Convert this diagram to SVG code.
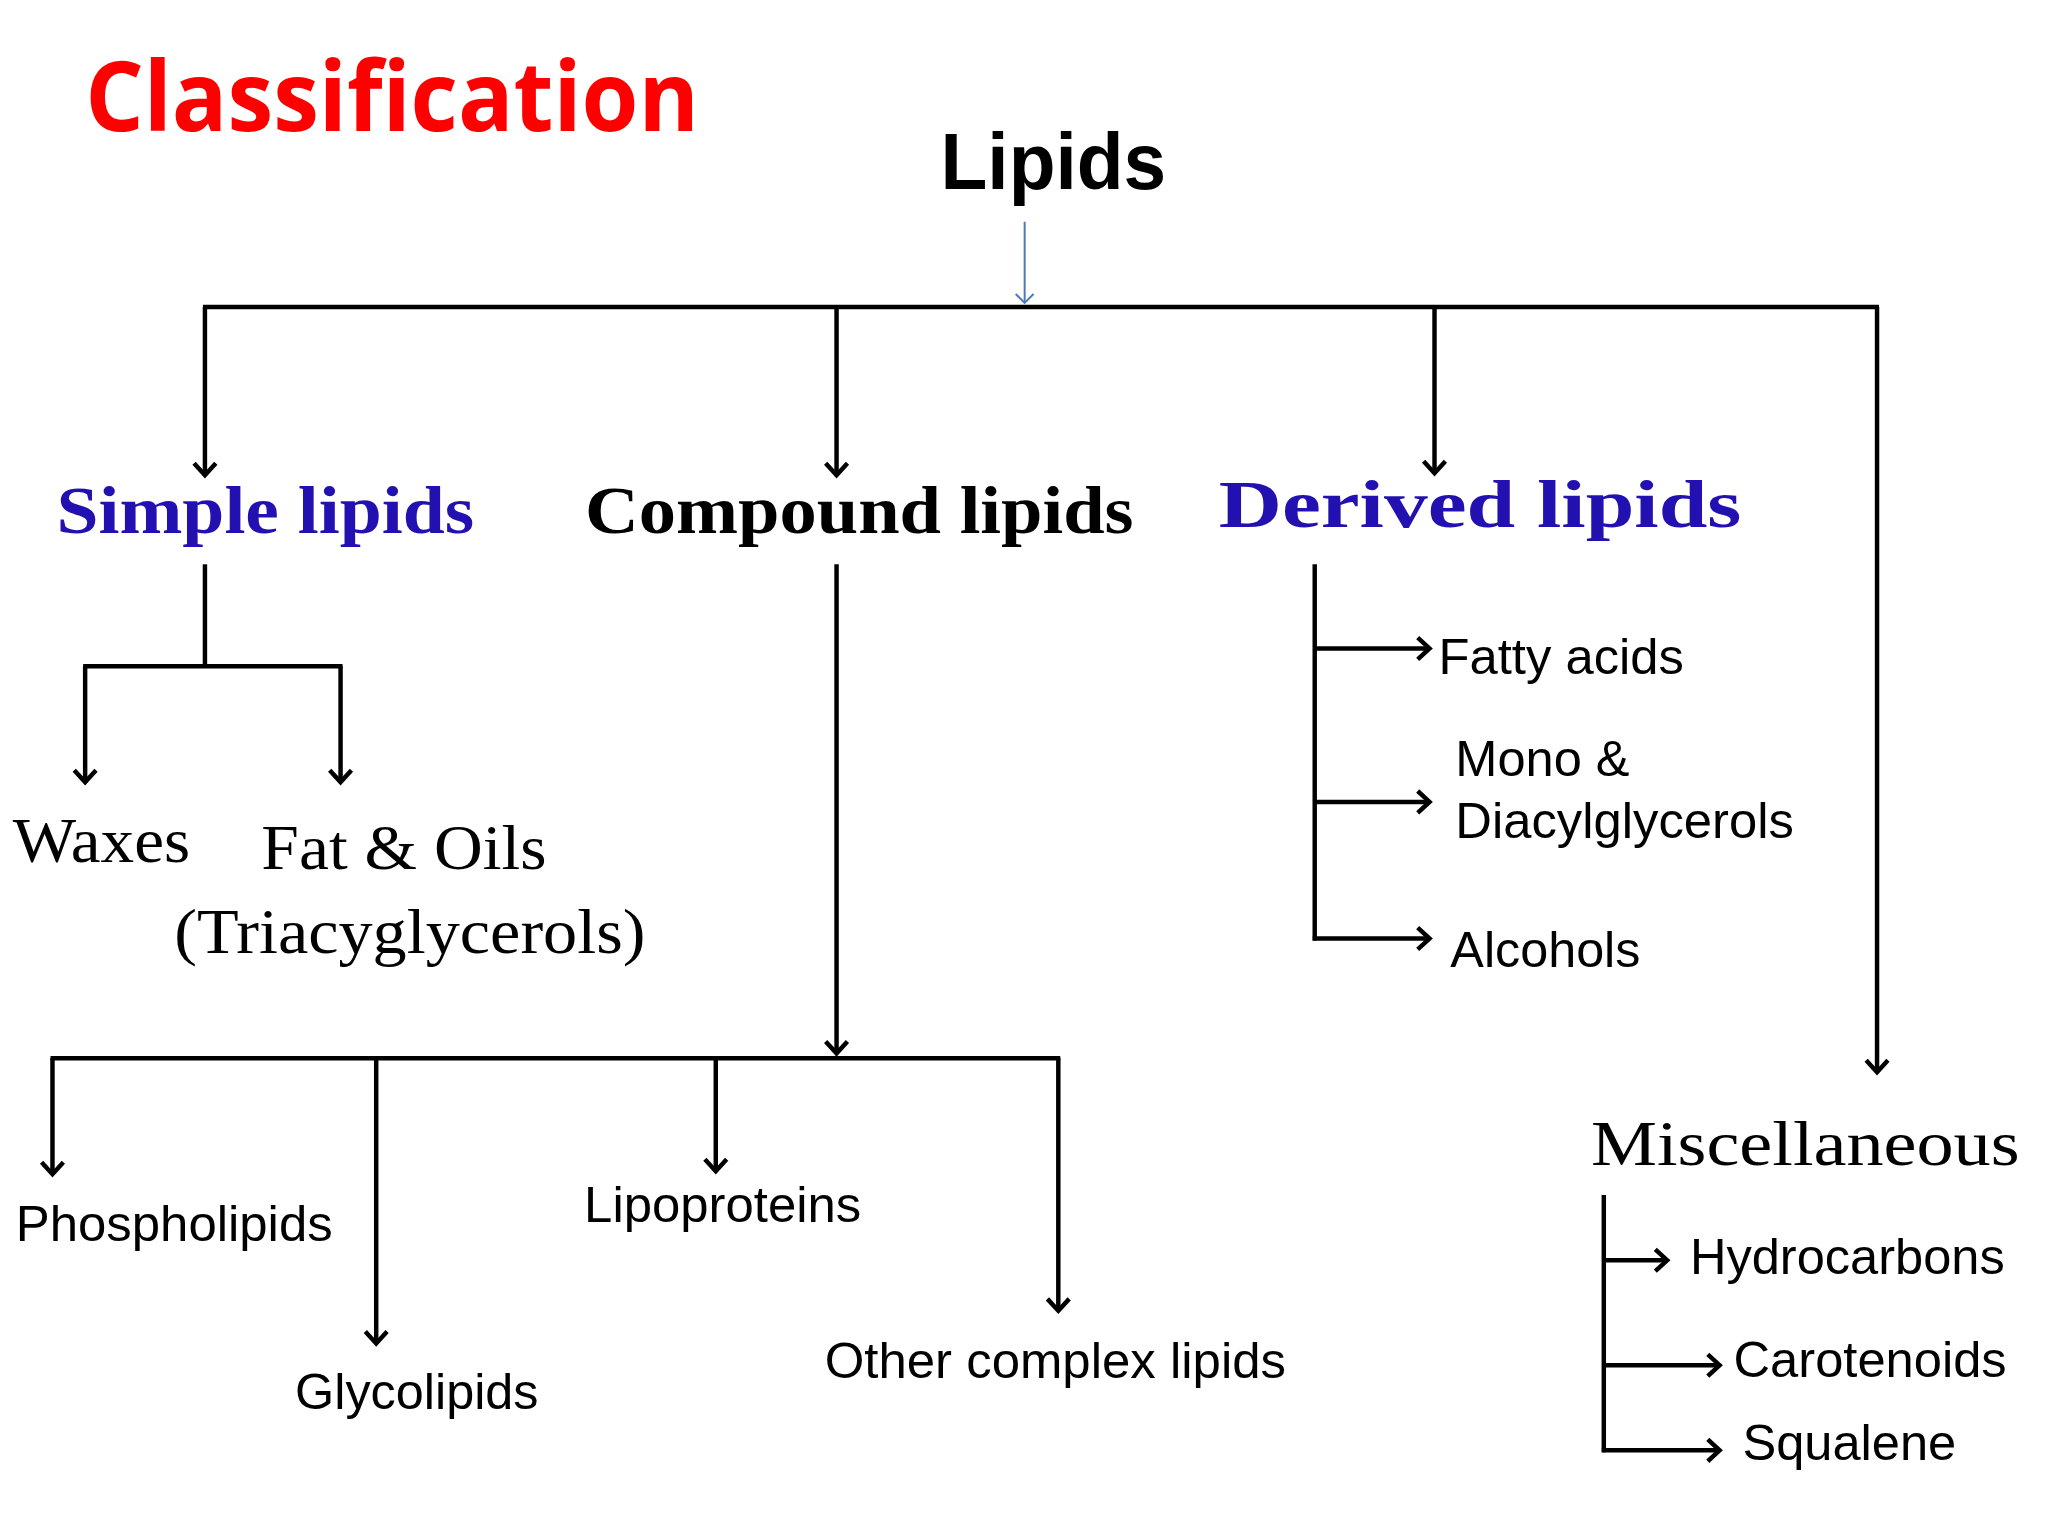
<svg xmlns="http://www.w3.org/2000/svg" width="2048" height="1536" viewBox="0 0 2048 1536">
<defs>
<marker id="ah" viewBox="0 0 10 10" refX="9" refY="5" markerWidth="10" markerHeight="10" orient="auto" markerUnits="userSpaceOnUse" style="overflow:visible">
<path d="M-3,-6 L9,5 L-3,16" fill="none" stroke="#000" stroke-width="4.5"/>
</marker>
<marker id="ahb" viewBox="0 0 10 10" refX="9" refY="5" markerWidth="10" markerHeight="10" orient="auto" markerUnits="userSpaceOnUse" style="overflow:visible">
<path d="M0,-4 L9,5 L0,14" fill="none" stroke="#4a7ab8" stroke-width="2"/>
</marker>
<style>
.l{stroke:#000;stroke-width:4.5;fill:none}
.a{stroke:#000;stroke-width:4.5;fill:none;marker-end:url(#ah)}
.s{font-family:"Liberation Sans",Arial,sans-serif;font-size:50px;fill:#000}
.r{font-family:"Liberation Serif","Times New Roman",serif;font-size:64px;fill:#000}
.rb{font-family:"Liberation Serif","Times New Roman",serif;font-weight:bold;font-size:68px}
</style>
</defs>
<rect width="2048" height="1536" fill="#fff"/>
<g transform="scale(0.99)">
<g id="title"><text x="86" y="132" font-family="'Open Sans','Liberation Sans',sans-serif" font-weight="bold" font-size="98" fill="#f00" textLength="620" lengthAdjust="spacingAndGlyphs">Classification</text></g>
<g id="lipids"><text x="950" y="191" font-family="'Liberation Sans',Arial,sans-serif" font-weight="bold" font-size="80" fill="#000" textLength="228" lengthAdjust="spacingAndGlyphs">Lipids</text></g>
<g id="connectors">
<line x1="1035" y1="224" x2="1035" y2="306" stroke="#4a7ab8" stroke-width="2" marker-end="url(#ahb)"/>
<line class="l" x1="205" y1="310" x2="1898" y2="310"/>
<line class="a" x1="207" y1="310" x2="207" y2="480"/>
<line class="a" x1="845" y1="310" x2="845" y2="480"/>
<line class="a" x1="1449" y1="310" x2="1449" y2="478"/>
<line class="a" x1="1896" y1="310" x2="1896" y2="1083"/>
<line class="l" x1="207" y1="570" x2="207" y2="673"/>
<line class="l" x1="84" y1="673" x2="346" y2="673"/>
<line class="a" x1="86" y1="673" x2="86" y2="790"/>
<line class="a" x1="344" y1="673" x2="344" y2="790"/>
<line class="a" x1="845" y1="570" x2="845" y2="1064"/>
<line class="l" x1="51" y1="1069" x2="1071" y2="1069"/>
<line class="a" x1="53" y1="1069" x2="53" y2="1186"/>
<line class="a" x1="380" y1="1069" x2="380" y2="1357"/>
<line class="a" x1="723" y1="1069" x2="723" y2="1183"/>
<line class="a" x1="1069" y1="1069" x2="1069" y2="1324"/>
<line class="l" x1="1328" y1="570" x2="1328" y2="950"/>
<line class="a" x1="1328" y1="655" x2="1444" y2="655"/>
<line class="a" x1="1328" y1="810" x2="1444" y2="810"/>
<line class="a" x1="1326" y1="948" x2="1444" y2="948"/>
<line class="l" x1="1620" y1="1207" x2="1620" y2="1467"/>
<line class="a" x1="1620" y1="1273" x2="1684" y2="1273"/>
<line class="a" x1="1620" y1="1379" x2="1737" y2="1379"/>
<line class="a" x1="1618" y1="1465" x2="1737" y2="1465"/>
</g>
<g id="simple"><text class="rb" x="57" y="538" fill="#2211b0" textLength="422" lengthAdjust="spacingAndGlyphs">Simple lipids</text></g>
<g id="compound"><text class="rb" x="591" y="538" fill="#000" textLength="554" lengthAdjust="spacingAndGlyphs">Compound lipids</text></g>
<g id="derived"><text class="rb" x="1231" y="532" font-size="80" fill="#2211b0" textLength="528" lengthAdjust="spacingAndGlyphs">Derived lipids</text></g>
<g id="waxes"><text class="r" x="13" y="871" textLength="179" lengthAdjust="spacingAndGlyphs">Waxes</text></g>
<g id="fats"><text class="r" x="264" y="878" textLength="288" lengthAdjust="spacingAndGlyphs">Fat &amp; Oils</text>
<text class="r" x="176" y="963" textLength="476" lengthAdjust="spacingAndGlyphs">(Triacyglycerols)</text></g>
<g id="phospholipids"><text class="s" x="16" y="1254" textLength="320" lengthAdjust="spacingAndGlyphs">Phospholipids</text></g>
<g id="lipoproteins"><text class="s" x="590" y="1234" textLength="280" lengthAdjust="spacingAndGlyphs">Lipoproteins</text></g>
<g id="glycolipids"><text class="s" x="298" y="1423" textLength="246" lengthAdjust="spacingAndGlyphs">Glycolipids</text></g>
<g id="other"><text class="s" x="833" y="1392" textLength="466" lengthAdjust="spacingAndGlyphs">Other complex lipids</text></g>
<g id="fatty"><text class="s" x="1453" y="681" textLength="248" lengthAdjust="spacingAndGlyphs">Fatty acids</text></g>
<g id="mono"><text class="s" x="1470" y="784" textLength="176" lengthAdjust="spacingAndGlyphs">Mono &amp;</text>
<text class="s" x="1470" y="846" textLength="342" lengthAdjust="spacingAndGlyphs">Diacylglycerols</text></g>
<g id="alcohols"><text class="s" x="1465" y="977" textLength="192" lengthAdjust="spacingAndGlyphs">Alcohols</text></g>
<g id="misc"><text class="r" x="1607" y="1177" font-size="70" textLength="433" lengthAdjust="spacingAndGlyphs">Miscellaneous</text></g>
<g id="hydrocarbons"><text class="s" x="1707" y="1287" textLength="318" lengthAdjust="spacingAndGlyphs">Hydrocarbons</text></g>
<g id="carotenoids"><text class="s" x="1751" y="1391" textLength="276" lengthAdjust="spacingAndGlyphs">Carotenoids</text></g>
<g id="squalene"><text class="s" x="1760" y="1475" textLength="216" lengthAdjust="spacingAndGlyphs">Squalene</text></g>
</g>
</svg>
